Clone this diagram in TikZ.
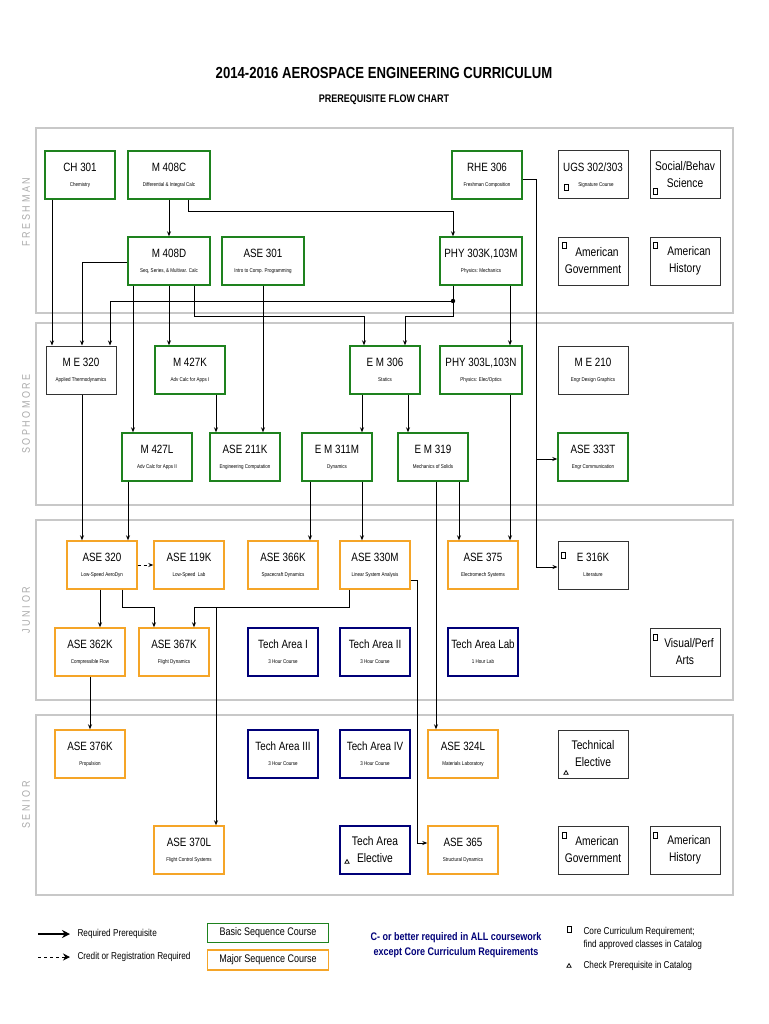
\documentclass[tikz,border=0pt]{standalone}
\usepackage{fontspec}
\setmainfont{Liberation Sans}[FakeStretch=0.82]
\usetikzlibrary{arrows.meta,shapes.geometric}
\definecolor{grn}{RGB}{30,130,30}
\definecolor{org}{RGB}{245,165,40}
\definecolor{nvy}{RGB}{0,0,120}
\definecolor{band}{RGB}{200,200,200}
\definecolor{lbl}{RGB}{170,170,170}
\newcommand{\crs}[2]{{\fontsize{12}{13}\selectfont #1}\\[3pt]{\fontsize{5.5}{6}\selectfont #2}}
\begin{document}
\begin{tikzpicture}[x=1pt,y=-1pt,
 box/.style={draw, minimum width=70pt, minimum height=48pt, align=center, inner sep=1pt, fill=white},
 basic/.style={box, draw=grn, line width=1.4pt},
 major/.style={box, draw=org, line width=1.4pt},
 tech/.style={box, draw=nvy, line width=2.4pt},
 core/.style={box, draw=black!80, line width=1pt},
 bigt/.style={font=\fontsize{12.5}{17}\selectfont},
 bandbox/.style={draw=band, line width=1.2pt},
 yr/.style={rotate=90, text=lbl, font=\fontsize{11}{12}\selectfont},
 ar/.style={-{Stealth[length=5pt,width=4pt]}, line width=0.8pt},
 sq/.style={draw, line width=0.8pt, minimum width=4pt, minimum height=6pt, inner sep=0pt},
 tri/.style={draw, line width=0.7pt, regular polygon, regular polygon sides=3, minimum size=5pt, inner sep=0pt}]
\useasboundingbox (0,0) rectangle (768,1024);
% title
\node (t1) at (384,73) {\fontsize{16}{18}\selectfont\bfseries 2014-2016 AEROSPACE ENGINEERING CURRICULUM};
\node (t2) at (384,100) {\fontsize{11}{12}\selectfont\bfseries PREREQUISITE FLOW CHART};
% bands
\draw[bandbox] (36,128) rectangle (733,313);
\draw[bandbox] (36,323) rectangle (733,505);
\draw[bandbox] (36,520) rectangle (733,700);
\draw[bandbox] (36,715) rectangle (733,895);
\node[yr] (yf) at (26,212) {F R E S H M A N};
\node[yr] (ys) at (26,414) {S O P H O M O R E};
\node[yr] (yj) at (26,610) {J U N I O R};
\node[yr] (ysn) at (26,805) {S E N I O R};
% freshman
\node[basic] (ch) at (80,175) {\crs{CH 301}{Chemistry}};
\node[basic, minimum width=82pt] (mc) at (169,175) {\crs{M 408C}{Differential \& Integral Calc}};
\node[basic] (rhe) at (487,175) {\crs{RHE 306}{Freshman Composition}};
\node[core] (ugs) at (593,175) {\crs{UGS 302/303}{\hspace{6pt}Signature Course}};
\node[core, bigt] (soc) at (685,175) {Social/Behav\\Science};
\node[basic, minimum width=82pt] (md) at (169,261) {\crs{M 408D}{Seq, Series, \& Multivar. Calc}};
\node[basic, minimum width=82pt] (a301) at (263,261) {\crs{ASE 301}{Intro to Comp. Programming}};
\node[basic, minimum width=82pt] (phk) at (481,261) {\crs{PHY 303K,103M}{Physics: Mechanics}};
\node[core, bigt] (ag1) at (593,261) {\hspace{8pt}American\\Government};
\node[core, bigt] (ah1) at (685,261) {\hspace{8pt}American\\History};
% sophomore
\node[core] (me320) at (81,370) {\crs{M E 320}{Applied Thermodynamics}};
\node[basic] (m427k) at (190,370) {\crs{M 427K}{Adv Calc for Apps I}};
\node[basic] (em306) at (385,370) {\crs{E M 306}{Statics}};
\node[basic, minimum width=82pt] (phl) at (481,370) {\crs{PHY 303L,103N}{Physics: Elec/Optics}};
\node[core] (me210) at (593,370) {\crs{M E 210}{Engr Design Graphics}};
\node[basic] (m427l) at (157,457) {\crs{M 427L}{Adv Calc for Apps II}};
\node[basic] (a211) at (245,457) {\crs{ASE 211K}{Engineering Computation}};
\node[basic] (em311) at (337,457) {\crs{E M 311M}{Dynamics}};
\node[basic] (em319) at (433,457) {\crs{E M 319}{Mechanics of Solids}};
\node[basic] (a333) at (593,457) {\crs{ASE 333T}{Engr Communication}};
% junior
\node[major] (a320) at (102,565) {\crs{ASE 320}{Low-Speed AeroDyn}};
\node[major] (a119) at (189,565) {\crs{ASE 119K}{Low-Speed\ \ Lab}};
\node[major] (a366) at (283,565) {\crs{ASE 366K}{Spacecraft Dynamics}};
\node[major] (a330) at (375,565) {\crs{ASE 330M}{Linear System Analysis}};
\node[major] (a375) at (483,565) {\crs{ASE 375}{Electromech Systems}};
\node[core] (e316) at (593,565) {\crs{E 316K}{Literature}};
\node[major] (a362) at (90,652) {\crs{ASE 362K}{Compressible Flow}};
\node[major] (a367) at (174,652) {\crs{ASE 367K}{Flight Dynamics}};
\node[tech] (t1a) at (283,652) {\crs{Tech Area I}{3 Hour Course}};
\node[tech] (t2a) at (375,652) {\crs{Tech Area II}{3 Hour Course}};
\node[tech] (tla) at (483,652) {\crs{Tech Area Lab}{1 Hour Lab}};
\node[core, bigt] (vis) at (685,652) {\hspace{8pt}Visual/Perf\\Arts};
% senior
\node[major] (a376) at (90,754) {\crs{ASE 376K}{Propulsion}};
\node[tech] (t3a) at (283,754) {\crs{Tech Area III}{3 Hour Course}};
\node[tech] (t4a) at (375,754) {\crs{Tech Area IV}{3 Hour Course}};
\node[major] (a324) at (463,754) {\crs{ASE 324L}{Materials Laboratory}};
\node[core, bigt] (tel) at (593,754) {Technical\\Elective};
\node[major] (a370) at (189,850) {\crs{ASE 370L}{Flight Control Systems}};
\node[tech, bigt] (tea) at (375,850) {Tech Area\\Elective};
\node[major] (a365) at (463,850) {\crs{ASE 365}{Structural Dynamics}};
\node[core, bigt] (ag2) at (593,850) {\hspace{8pt}American\\Government};
\node[core, bigt] (ah2) at (685,850) {\hspace{8pt}American\\History};
% markers
\node[sq] (s1) at (566,187) {};
\node[sq] (s2) at (655,191) {};
\node[sq] (s3) at (564,245) {};
\node[sq] (s4) at (655,245) {};
\node[sq] (s5) at (563,555) {};
\node[sq] (s6) at (655,637) {};
\node[sq] (s7) at (564,835) {};
\node[sq] (s8) at (655,835) {};
\node[tri] (tr1) at (566,773) {};
\node[tri] (tr2) at (347,862) {};
% connectors
\draw[ar] (52,0 |- ch.south) -- (52,0 |- me320.north);
\draw[ar] (mc.south) -- (md.north);
\draw[ar] (188,0 |- mc.south) -- (188,211) -- (453,211) -- (453,0 |- phk.north);
\draw[ar] (md.west |- 0,262) -- (82,262) -- (82,0 |- me320.north);
\draw[ar] (133,0 |- md.south) -- (133,0 |- m427l.north);
\draw[ar] (169,0 |- md.south) -- (169,0 |- m427k.north);
\draw[ar] (194,0 |- md.south) -- (194,316) -- (364,316) -- (364,0 |- em306.north);
\coordinate (dot) at (453,301);
\draw[line width=0.8pt] (453,0 |- phk.south) -- (dot);
\fill (dot) circle (2.2pt);
\draw[ar] (dot) -- (110,301) -- (110,0 |- me320.north);
\draw[ar] (dot) -- (453,316) -- (405,316) -- (405,0 |- em306.north);
\draw[ar] (263,0 |- a301.south) -- (263,0 |- a211.north);
\draw[ar] (216,0 |- m427k.south) -- (216,0 |- a211.north);
\draw[ar] (510,0 |- phk.south) -- (510,0 |- phl.north);
\draw[ar] (rhe.east |- 0,179) -- (536,179) -- (536,459) -- (a333.west |- 0,459);
\draw[ar] (536,459) -- (536,567) -- (e316.west |- 0,567);
\draw[ar] (362,0 |- em306.south) -- (362,0 |- em311.north);
\draw[ar] (408,0 |- em306.south) -- (408,0 |- em319.north);
\draw[ar] (82,0 |- me320.south) -- (82,0 |- a320.north);
\draw[ar] (128,0 |- m427l.south) -- (128,0 |- a320.north);
\draw[ar] (310,0 |- em311.south) -- (310,0 |- a366.north);
\draw[ar] (362,0 |- em311.south) -- (362,0 |- a330.north);
\draw[ar] (436,0 |- em319.south) -- (436,0 |- a324.north);
\draw[ar] (459,0 |- em319.south) -- (459,0 |- a375.north);
\draw[ar] (510,0 |- phl.south) -- (510,0 |- a375.north);
\draw[ar, dashed] (a320.east) -- (a119.west);
\draw[ar] (100,0 |- a320.south) -- (100,0 |- a362.north);
\draw[ar] (122,0 |- a320.south) -- (122,607) -- (154,607) -- (154,0 |- a367.north);
\draw[ar] (349,0 |- a330.south) -- (349,607) -- (194,607) -- (194,0 |- a367.north);
\draw[ar] (216,607) -- (216,0 |- a370.north);
\draw[ar] (a330.east |- 0,580) -- (417,580) -- (417,843) -- (a365.west |- 0,843);
\draw[ar] (a362.south) -- (a376.north);
% legend
\coordinate (l1a) at (38,934); \coordinate (l1b) at (70,934);
\draw[-{Stealth[length=8pt,width=8pt]}, line width=2pt] (l1a) -- (l1b);
\node[anchor=west, font=\fontsize{10}{11}\selectfont] (lt1) at (74,934) {Required Prerequisite};
\coordinate (l2a) at (38,957); \coordinate (l2b) at (70,957);
\draw[-{Stealth[length=7pt,width=7pt]}, dashed, line width=0.9pt] (l2a) -- (l2b);
\node[anchor=west, font=\fontsize{10}{11}\selectfont] (lt2) at (74,957) {Credit or Registration Required};
\node[draw=grn, line width=1.3pt, minimum width=121pt, minimum height=19pt, font=\fontsize{11}{12}\selectfont] (lb) at (268,933) {Basic Sequence Course};
\node[draw=org, line width=1.3pt, minimum width=121pt, minimum height=20pt, font=\fontsize{11}{12}\selectfont] (lm) at (268,960) {Major Sequence Course};
\node[text=nvy, align=center, font=\fontsize{11}{15}\selectfont\bfseries] (cnote) at (456,945) {C- or better required in ALL coursework\\except Core Curriculum Requirements};
\node[sq] (lsq) at (569,929) {};
\node[anchor=west, align=left, font=\fontsize{10}{13}\selectfont] (lt3) at (580,938) {Core Curriculum Requirement;\\find approved classes in Catalog};
\node[tri] (ltr) at (569,966) {};
\node[anchor=west, font=\fontsize{10}{11}\selectfont] (lt4) at (580,966) {Check Prerequisite in Catalog};
\end{tikzpicture}
\end{document}
